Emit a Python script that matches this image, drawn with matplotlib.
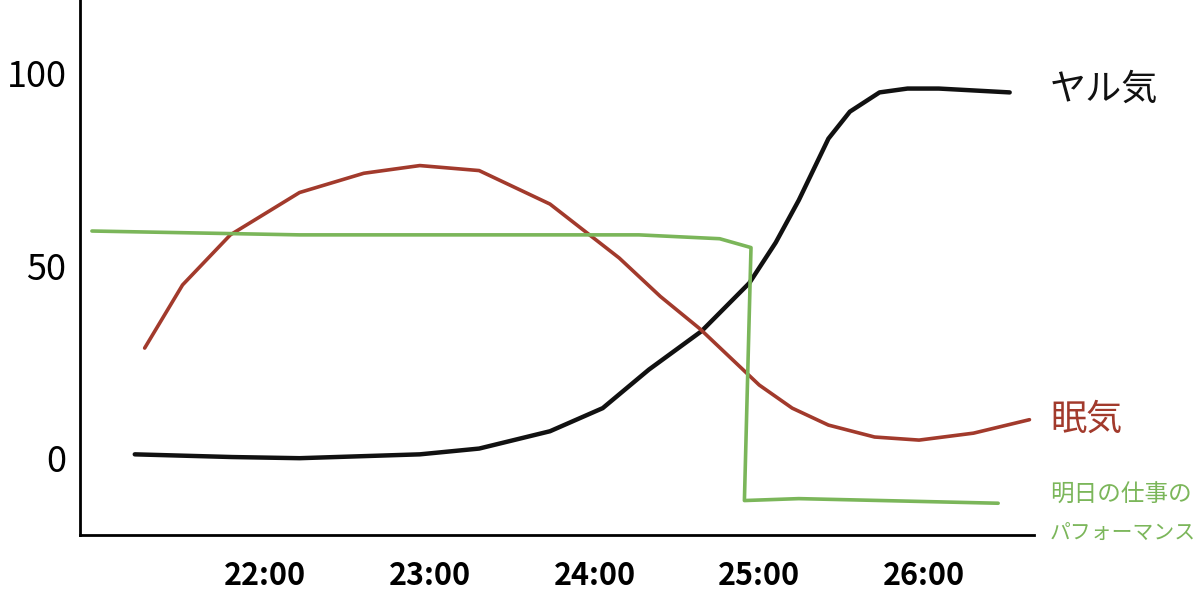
import matplotlib
matplotlib.use("Agg")
import matplotlib.pyplot as plt

plt.rcParams['font.family'] = ['Noto Sans CJK JP', 'DejaVu Sans']

# hours (21 = 21:00, 25 = 1:00 next day shown as 25:00)
yaruki_x = [21.21, 21.8, 22.21, 22.94, 23.3, 23.73, 24.05, 24.33, 24.65, 24.94, 25.1, 25.24, 25.42, 25.55, 25.73, 25.9, 26.09, 26.52]
yaruki_y = [1, 0.3, 0, 1, 2.5, 7, 13, 23, 33, 45.5, 56, 67, 83, 90, 95, 96, 96, 95]
nemuke_x = [21.27, 21.5, 21.79, 22.21, 22.6, 22.94, 23.3, 23.73, 24.15, 24.4, 24.64, 25.0, 25.2, 25.42, 25.7, 25.97, 26.3, 26.64]
nemuke_y = [28.6, 45, 58, 69, 74, 76, 74.7, 66, 52, 42, 33.6, 19, 13, 8.6, 5.5, 4.7, 6.5, 10]
perf_x = [20.95, 22.21, 24.27, 24.76, 24.95, 24.91, 25.24, 26.45]
perf_y = [59, 58, 58, 57, 54.7, -11, -10.5, -11.7]

yticks = [0, 50, 100]
xticks = [22, 23, 24, 25, 26]
xlabels = ['22:00', '23:00', '24:00', '25:00', '26:00']

fig = plt.figure(figsize=(12, 6), dpi=100)
ax = fig.add_axes([0.067, 0.108, 0.795, 0.892])
ax.plot(yaruki_x, yaruki_y, color='#111111', lw=3.2, solid_capstyle='round')
ax.plot(nemuke_x, nemuke_y, color='#a23a2c', lw=2.6, solid_capstyle='round')
ax.plot(perf_x, perf_y, color='#7bb65a', lw=2.6, solid_capstyle='round')
ax.set_xlim(20.88, 26.67)
ax.set_ylim(-20, 119)
for s in ['top', 'right']:
    ax.spines[s].set_visible(False)
ax.spines['left'].set_linewidth(2)
ax.spines['bottom'].set_linewidth(2)
ax.set_yticks(yticks)
ax.set_yticklabels([str(v) for v in yticks], fontsize=26, fontstyle='italic')
ax.set_xticks(xticks)
ax.set_xticklabels(xlabels, fontsize=22, fontweight='bold')
ax.tick_params(length=0, pad=18)
ax.tick_params(axis='y', pad=10)

fig.text(0.875, 0.85, 'ヤル気', fontsize=26, color='#111111', va='center')
fig.text(0.875, 0.30, '眠気', fontsize=26, color='#a23a2c', va='center')
fig.text(0.875, 0.175, '明日の仕事の', fontsize=17, color='#7bb65a', va='center')
fig.text(0.875, 0.11, 'パフォーマンス', fontsize=15, color='#7bb65a', va='center')
fig.savefig('out.png')
